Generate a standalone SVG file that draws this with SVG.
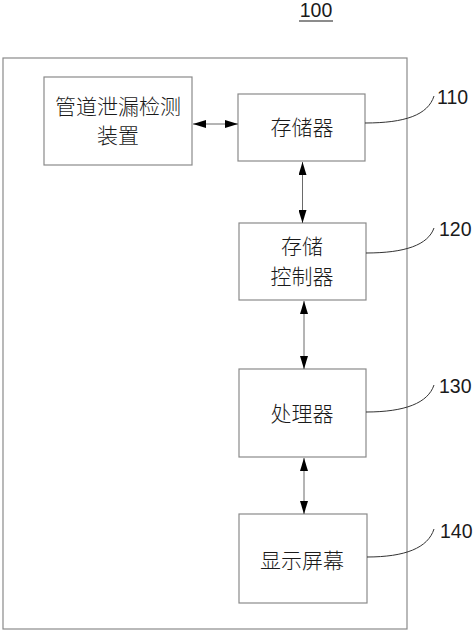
<svg xmlns="http://www.w3.org/2000/svg" width="474" height="632" viewBox="0 0 474 632">
<defs>
<style>
.box{fill:#fff;stroke:#8a8a8a;stroke-width:1.2}
.t{font-family:"Noto Sans CJK SC","Liberation Sans",sans-serif;font-size:21px;font-weight:300;fill:#1a1a1a;text-anchor:middle}
.n{font-family:"Liberation Sans","Noto Sans",sans-serif;font-size:19.5px;fill:#1a1a1a}
.c{fill:none;stroke:#6a6a6a;stroke-width:1}
.lead{fill:none;stroke:#333;stroke-width:1}
</style>
<marker id="ah" viewBox="0 0 13 8" refX="13" refY="4" markerWidth="13" markerHeight="8" markerUnits="userSpaceOnUse" orient="auto-start-reverse">
<path d="M0,0 L13,4 L0,8 Z" fill="#000"/>
</marker>
</defs>
<rect width="474" height="632" fill="#fff"/>
<g id="title">
<text class="n" x="316" y="17" text-anchor="middle">100</text>
<line x1="299" y1="21" x2="333" y2="21" stroke="#1a1a1a" stroke-width="1.2"/>
</g>
<g id="outer">
<rect class="box" x="3" y="58" width="404" height="571"/>
</g>
<g id="leak-detector">
<rect class="box" x="44" y="77" width="148" height="88"/>
<text class="t" x="118" y="114">管道泄漏检测</text>
<text class="t" x="118" y="143">装置</text>
</g>
<g id="memory">
<rect class="box" x="238" y="94" width="127" height="67"/>
<text class="t" x="302" y="135">存储器</text>
</g>
<g id="memory-controller">
<rect class="box" x="239" y="223" width="127" height="77"/>
<text class="t" x="302" y="254">存储</text>
<text class="t" x="302" y="284">控制器</text>
</g>
<g id="processor">
<rect class="box" x="239" y="369" width="127" height="88"/>
<text class="t" x="302" y="421">处理器</text>
</g>
<g id="display">
<rect class="box" x="239" y="514" width="128" height="89"/>
<text class="t" x="302" y="568">显示屏幕</text>
</g>
<g id="labels">
<text class="n" x="437" y="104">110</text>
<text class="n" x="439" y="236">120</text>
<text class="n" x="439" y="393">130</text>
<text class="n" x="440" y="538">140</text>
</g>
<g id="connectors">
<line class="c" x1="193" y1="124" x2="238" y2="124" marker-start="url(#ah)" marker-end="url(#ah)"/>
<line class="c" x1="302.5" y1="162" x2="302.5" y2="223" marker-start="url(#ah)" marker-end="url(#ah)"/>
<line class="c" x1="304" y1="301" x2="304" y2="369" marker-start="url(#ah)" marker-end="url(#ah)"/>
<line class="c" x1="304" y1="458" x2="304" y2="514" marker-start="url(#ah)" marker-end="url(#ah)"/>
<path class="lead" d="M365,123 C405,123 428,115 434,96"/>
<path class="lead" d="M366,253 C405,253 428,245 434,228"/>
<path class="lead" d="M366,412 C405,412 428,403 434,385"/>
<path class="lead" d="M367,557 C405,557 428,548 434,529"/>
</g>
</svg>
